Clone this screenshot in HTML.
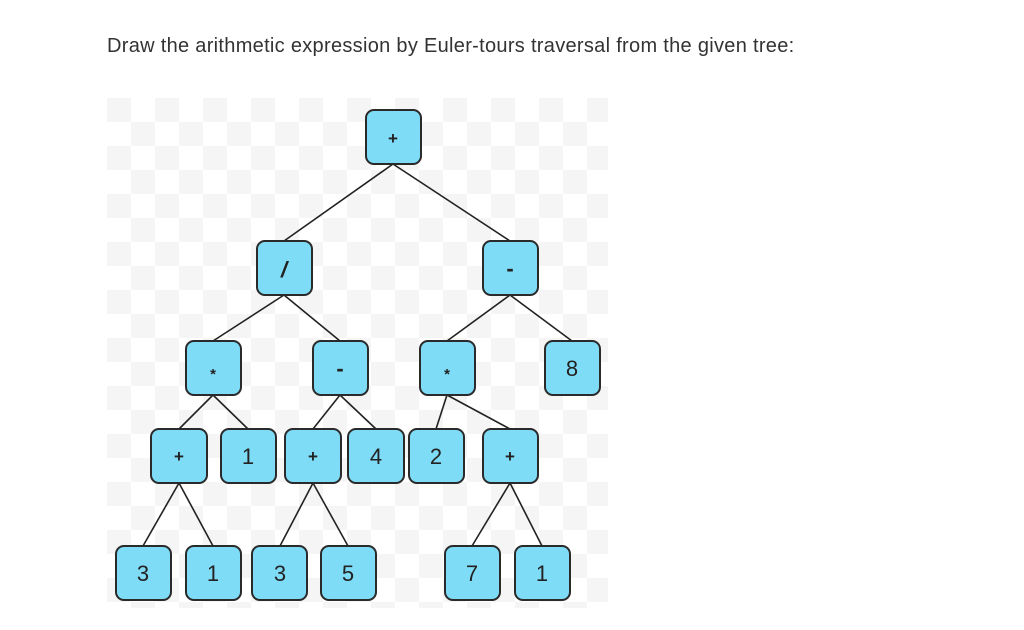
<!DOCTYPE html>
<html><head><meta charset="utf-8"><style>
body{margin:0;width:1024px;height:630px;background:#fff;overflow:hidden;font-family:"Liberation Sans",sans-serif}
.t{position:absolute;left:107px;top:35px;font-size:20px;letter-spacing:0.3px;color:#333}
</style></head><body>
<div class="t">Draw the arithmetic expression by Euler-tours traversal from the given tree:</div>
<svg width="1024" height="630" style="position:absolute;left:0;top:0">
<defs><pattern id="c" x="107" y="98" width="48" height="48" patternUnits="userSpaceOnUse">
<rect width="48" height="48" fill="#fff"/><rect x="0" y="0" width="24" height="24" fill="#f5f5f5"/><rect x="24" y="24" width="24" height="24" fill="#f5f5f5"/></pattern></defs>
<rect x="107" y="98" width="501" height="510" fill="url(#c)"/>
<g stroke="#222" stroke-width="1.6">
<line x1="393" y1="164" x2="284" y2="241"/><line x1="393" y1="164" x2="510" y2="241"/>
<line x1="284" y1="295" x2="213" y2="341"/><line x1="284" y1="295" x2="340" y2="341"/>
<line x1="510" y1="295" x2="447" y2="341"/><line x1="510" y1="295" x2="572" y2="341"/>
<line x1="213" y1="395" x2="179" y2="429"/><line x1="213" y1="395" x2="248" y2="429"/>
<line x1="340" y1="395" x2="313" y2="429"/><line x1="340" y1="395" x2="376" y2="429"/>
<line x1="447" y1="395" x2="436" y2="429"/><line x1="447" y1="395" x2="510" y2="429"/>
<line x1="179" y1="483" x2="143" y2="546"/><line x1="179" y1="483" x2="213" y2="546"/>
<line x1="313" y1="483" x2="280" y2="546"/><line x1="313" y1="483" x2="348" y2="546"/>
<line x1="510" y1="483" x2="472" y2="546"/><line x1="510" y1="483" x2="542" y2="546"/>
</g>
<g fill="#7fdcf7" stroke="#2a2a2a" stroke-width="2">
<rect x="366" y="110" width="55" height="54" rx="8"/>
<rect x="257" y="241" width="55" height="54" rx="8"/><rect x="483" y="241" width="55" height="54" rx="8"/>
<rect x="186" y="341" width="55" height="54" rx="8"/><rect x="313" y="341" width="55" height="54" rx="8"/>
<rect x="420" y="341" width="55" height="54" rx="8"/><rect x="545" y="341" width="55" height="54" rx="8"/>
<rect x="151" y="429" width="56" height="54" rx="8"/><rect x="221" y="429" width="55" height="54" rx="8"/>
<rect x="285" y="429" width="56" height="54" rx="8"/><rect x="348" y="429" width="56" height="54" rx="8"/>
<rect x="409" y="429" width="55" height="54" rx="8"/><rect x="483" y="429" width="55" height="54" rx="8"/>
<rect x="116" y="546" width="55" height="54" rx="8"/><rect x="186" y="546" width="55" height="54" rx="8"/>
<rect x="252" y="546" width="55" height="54" rx="8"/><rect x="321" y="546" width="55" height="54" rx="8"/>
<rect x="445" y="546" width="55" height="54" rx="8"/><rect x="515" y="546" width="55" height="54" rx="8"/>
</g>
<g font-family="Liberation Sans,sans-serif" font-size="22" fill="#222" text-anchor="middle" font-weight="bold">
<text x="393" y="144" font-size="17">+</text>
<text x="284" y="277" font-style="italic">/</text><text x="510" y="276">-</text>
<text x="213" y="379" font-size="15">*</text><text x="340" y="376">-</text>
<text x="447" y="379" font-size="15">*</text><text x="572" y="376" font-weight="normal">8</text>
<text x="179" y="462" font-size="17">+</text><text x="248" y="464" font-weight="normal">1</text>
<text x="313" y="462" font-size="17">+</text><text x="376" y="464" font-weight="normal">4</text>
<text x="436" y="464" font-weight="normal">2</text><text x="510" y="462" font-size="17">+</text>
<text x="143" y="581" font-weight="normal">3</text><text x="213" y="581" font-weight="normal">1</text>
<text x="280" y="581" font-weight="normal">3</text><text x="348" y="581" font-weight="normal">5</text>
<text x="472" y="581" font-weight="normal">7</text><text x="542" y="581" font-weight="normal">1</text>
</g>
</svg>
</body></html>
